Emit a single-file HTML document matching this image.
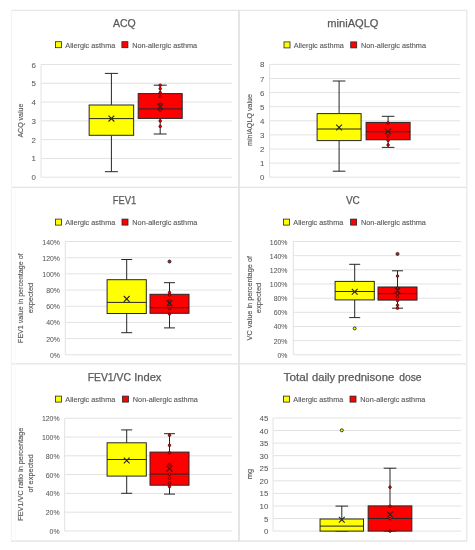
<!DOCTYPE html>
<html><head><meta charset="utf-8"><style>
html,body{margin:0;padding:0;background:#fff;width:475px;height:550px;overflow:hidden}
svg{display:block;font-family:"Liberation Sans", sans-serif;filter:blur(0.4px)}
text{stroke:#595959;stroke-width:0.25px}
text.t{stroke-width:0.05px}
text.l{stroke-width:0.12px}
text.y{stroke-width:0.15px}
</style></head><body>
<svg width="475" height="550" viewBox="0 0 475 550">
<rect width="475" height="550" fill="#fff"/>
<line x1="11" y1="10.3" x2="467" y2="10.3" stroke="#e6e6e6" stroke-width="1.2"/>
<line x1="11" y1="187.4" x2="467" y2="187.4" stroke="#e4e4e4" stroke-width="1.4"/>
<line x1="11" y1="363.8" x2="467" y2="363.8" stroke="#e8e8e8" stroke-width="1.6"/>
<line x1="11" y1="541" x2="467" y2="541" stroke="#e4e4e4" stroke-width="1.4"/>
<line x1="11.4" y1="10" x2="11.4" y2="541.5" stroke="#f4f4f4" stroke-width="1.2"/><line x1="15.2" y1="188" x2="15.2" y2="541" stroke="#fafafa" stroke-width="1"/>
<line x1="239" y1="10" x2="239" y2="541.5" stroke="#e2e2e2" stroke-width="1.8"/>
<line x1="466.8" y1="10" x2="466.8" y2="541.5" stroke="#ebebeb" stroke-width="1.5"/>
<text x="112.9" y="26.6" font-size="10.8" text-anchor="start" fill="#595959" textLength="22.8" lengthAdjust="spacingAndGlyphs">ACQ</text>
<rect x="55.5" y="41.7" width="6" height="6" fill="#ffff00" stroke="#262626" stroke-width="0.8"/>
<text x="65.3" y="47.5" font-size="7.5" text-anchor="start" fill="#595959" textLength="50" lengthAdjust="spacingAndGlyphs" class="l">Allergic asthma</text>
<rect x="121.9" y="41.7" width="6" height="6" fill="#ff0000" stroke="#262626" stroke-width="0.8"/>
<text x="132.20000000000002" y="47.5" font-size="7.5" text-anchor="start" fill="#595959" textLength="65" lengthAdjust="spacingAndGlyphs" class="l">Non-allergic asthma</text>
<line x1="41" y1="177.20" x2="232" y2="177.20" stroke="#e2e2e2" stroke-width="1"/>
<line x1="41" y1="158.42" x2="232" y2="158.42" stroke="#e2e2e2" stroke-width="1"/>
<line x1="41" y1="139.63" x2="232" y2="139.63" stroke="#e2e2e2" stroke-width="1"/>
<line x1="41" y1="120.85" x2="232" y2="120.85" stroke="#e2e2e2" stroke-width="1"/>
<line x1="41" y1="102.07" x2="232" y2="102.07" stroke="#e2e2e2" stroke-width="1"/>
<line x1="41" y1="83.28" x2="232" y2="83.28" stroke="#e2e2e2" stroke-width="1"/>
<line x1="41" y1="64.50" x2="232" y2="64.50" stroke="#e2e2e2" stroke-width="1"/>
<line x1="41" y1="64.5" x2="41" y2="177.2" stroke="#e2e2e2" stroke-width="1"/>
<text x="36" y="180.2" font-size="7.9" text-anchor="end" fill="#595959" textLength="4.39" lengthAdjust="spacingAndGlyphs" class="t">0</text>
<text x="36" y="161.41666666666666" font-size="7.9" text-anchor="end" fill="#595959" textLength="4.39" lengthAdjust="spacingAndGlyphs" class="t">1</text>
<text x="36" y="142.63333333333333" font-size="7.9" text-anchor="end" fill="#595959" textLength="4.39" lengthAdjust="spacingAndGlyphs" class="t">2</text>
<text x="36" y="123.85" font-size="7.9" text-anchor="end" fill="#595959" textLength="4.39" lengthAdjust="spacingAndGlyphs" class="t">3</text>
<text x="36" y="105.06666666666666" font-size="7.9" text-anchor="end" fill="#595959" textLength="4.39" lengthAdjust="spacingAndGlyphs" class="t">4</text>
<text x="36" y="86.28333333333332" font-size="7.9" text-anchor="end" fill="#595959" textLength="4.39" lengthAdjust="spacingAndGlyphs" class="t">5</text>
<text x="36" y="67.5" font-size="7.9" text-anchor="end" fill="#595959" textLength="4.39" lengthAdjust="spacingAndGlyphs" class="t">6</text>
<text class="y" transform="translate(22.8,120.6) rotate(-90)" x="0" y="0" font-size="7.8" text-anchor="middle" fill="#595959" textLength="34" lengthAdjust="spacingAndGlyphs">ACQ value</text>
<line x1="111.4" y1="73.4" x2="111.4" y2="105" stroke="#262626" stroke-width="1"/>
<line x1="111.4" y1="135.3" x2="111.4" y2="171.7" stroke="#262626" stroke-width="1"/>
<line x1="104.9" y1="73.4" x2="117.9" y2="73.4" stroke="#262626" stroke-width="1"/>
<line x1="104.9" y1="171.7" x2="117.9" y2="171.7" stroke="#262626" stroke-width="1"/>
<rect x="89.15" y="105" width="44.5" height="30.30000000000001" fill="#ffff00" stroke="#262626" stroke-width="1"/>
<line x1="89.15" y1="118.6" x2="133.65" y2="118.6" stroke="#262626" stroke-width="1"/>
<path d="M108.5,115.69999999999999L114.30000000000001,121.5M114.30000000000001,115.69999999999999L108.5,121.5" stroke="#262626" stroke-width="1.1" fill="none"/>
<line x1="160.2" y1="85.2" x2="160.2" y2="93.6" stroke="#262626" stroke-width="1"/>
<line x1="160.2" y1="118.4" x2="160.2" y2="134" stroke="#262626" stroke-width="1"/>
<line x1="153.7" y1="85.2" x2="166.7" y2="85.2" stroke="#262626" stroke-width="1"/>
<line x1="153.7" y1="134" x2="166.7" y2="134" stroke="#262626" stroke-width="1"/>
<rect x="138.2" y="93.6" width="44" height="24.80000000000001" fill="#ff0000" stroke="#262626" stroke-width="1"/>
<line x1="138.2" y1="108.9" x2="182.2" y2="108.9" stroke="#262626" stroke-width="1"/>
<circle cx="160.2" cy="85.2" r="1.3" fill="#ff0000" stroke="#3a0000" stroke-width="0.7"/>
<circle cx="160.2" cy="88.7" r="1.3" fill="#ff0000" stroke="#3a0000" stroke-width="0.7"/>
<circle cx="160.2" cy="92.6" r="1.3" fill="#ff0000" stroke="#3a0000" stroke-width="0.7"/>
<circle cx="160.2" cy="96.4" r="1.3" fill="#ff0000" stroke="#3a0000" stroke-width="0.7"/>
<circle cx="160.2" cy="104.2" r="1.3" fill="#ff0000" stroke="#3a0000" stroke-width="0.7"/>
<circle cx="160.2" cy="110" r="1.3" fill="#ff0000" stroke="#3a0000" stroke-width="0.7"/>
<circle cx="160.2" cy="120.9" r="1.3" fill="#ff0000" stroke="#3a0000" stroke-width="0.7"/>
<circle cx="160.2" cy="126.4" r="1.3" fill="#ff0000" stroke="#3a0000" stroke-width="0.7"/>
<path d="M157.29999999999998,103.6L163.1,109.4M163.1,103.6L157.29999999999998,109.4" stroke="#262626" stroke-width="1.1" fill="none"/>
<text x="327.3" y="26.6" font-size="10.8" text-anchor="start" fill="#595959" textLength="51.2" lengthAdjust="spacingAndGlyphs">miniAQLQ</text>
<rect x="284.0" y="41.9" width="6" height="6" fill="#ffff00" stroke="#262626" stroke-width="0.8"/>
<text x="293.8" y="47.699999999999996" font-size="7.5" text-anchor="start" fill="#595959" textLength="50" lengthAdjust="spacingAndGlyphs" class="l">Allergic asthma</text>
<rect x="350.7" y="41.9" width="6" height="6" fill="#ff0000" stroke="#262626" stroke-width="0.8"/>
<text x="361.0" y="47.699999999999996" font-size="7.5" text-anchor="start" fill="#595959" textLength="65" lengthAdjust="spacingAndGlyphs" class="l">Non-allergic asthma</text>
<line x1="269.6" y1="177.20" x2="460.4" y2="177.20" stroke="#e2e2e2" stroke-width="1"/>
<line x1="269.6" y1="163.10" x2="460.4" y2="163.10" stroke="#e2e2e2" stroke-width="1"/>
<line x1="269.6" y1="149.00" x2="460.4" y2="149.00" stroke="#e2e2e2" stroke-width="1"/>
<line x1="269.6" y1="134.90" x2="460.4" y2="134.90" stroke="#e2e2e2" stroke-width="1"/>
<line x1="269.6" y1="120.80" x2="460.4" y2="120.80" stroke="#e2e2e2" stroke-width="1"/>
<line x1="269.6" y1="106.70" x2="460.4" y2="106.70" stroke="#e2e2e2" stroke-width="1"/>
<line x1="269.6" y1="92.60" x2="460.4" y2="92.60" stroke="#e2e2e2" stroke-width="1"/>
<line x1="269.6" y1="78.50" x2="460.4" y2="78.50" stroke="#e2e2e2" stroke-width="1"/>
<line x1="269.6" y1="64.40" x2="460.4" y2="64.40" stroke="#e2e2e2" stroke-width="1"/>
<line x1="269.6" y1="64.4" x2="269.6" y2="177.2" stroke="#e2e2e2" stroke-width="1"/>
<text x="264.5" y="180.2" font-size="7.9" text-anchor="end" fill="#595959" textLength="4.39" lengthAdjust="spacingAndGlyphs" class="t">0</text>
<text x="264.5" y="166.1" font-size="7.9" text-anchor="end" fill="#595959" textLength="4.39" lengthAdjust="spacingAndGlyphs" class="t">1</text>
<text x="264.5" y="152.0" font-size="7.9" text-anchor="end" fill="#595959" textLength="4.39" lengthAdjust="spacingAndGlyphs" class="t">2</text>
<text x="264.5" y="137.89999999999998" font-size="7.9" text-anchor="end" fill="#595959" textLength="4.39" lengthAdjust="spacingAndGlyphs" class="t">3</text>
<text x="264.5" y="123.8" font-size="7.9" text-anchor="end" fill="#595959" textLength="4.39" lengthAdjust="spacingAndGlyphs" class="t">4</text>
<text x="264.5" y="109.7" font-size="7.9" text-anchor="end" fill="#595959" textLength="4.39" lengthAdjust="spacingAndGlyphs" class="t">5</text>
<text x="264.5" y="95.6" font-size="7.9" text-anchor="end" fill="#595959" textLength="4.39" lengthAdjust="spacingAndGlyphs" class="t">6</text>
<text x="264.5" y="81.5" font-size="7.9" text-anchor="end" fill="#595959" textLength="4.39" lengthAdjust="spacingAndGlyphs" class="t">7</text>
<text x="264.5" y="67.4" font-size="7.9" text-anchor="end" fill="#595959" textLength="4.39" lengthAdjust="spacingAndGlyphs" class="t">8</text>
<text class="y" transform="translate(251.5,120) rotate(-90)" x="0" y="0" font-size="7.8" text-anchor="middle" fill="#595959" textLength="52" lengthAdjust="spacingAndGlyphs">miniAQLQ value</text>
<line x1="339.1" y1="81" x2="339.1" y2="113.6" stroke="#262626" stroke-width="1"/>
<line x1="339.1" y1="140.6" x2="339.1" y2="171.2" stroke="#262626" stroke-width="1"/>
<line x1="332.8" y1="81" x2="345.40000000000003" y2="81" stroke="#262626" stroke-width="1"/>
<line x1="332.8" y1="171.2" x2="345.40000000000003" y2="171.2" stroke="#262626" stroke-width="1"/>
<rect x="317.1" y="113.6" width="44" height="27.0" fill="#ffff00" stroke="#262626" stroke-width="1"/>
<line x1="317.1" y1="129" x2="361.1" y2="129" stroke="#262626" stroke-width="1"/>
<path d="M336.20000000000005,124.6L342.0,130.4M342.0,124.6L336.20000000000005,130.4" stroke="#262626" stroke-width="1.1" fill="none"/>
<line x1="388.1" y1="116.3" x2="388.1" y2="122.4" stroke="#262626" stroke-width="1"/>
<line x1="388.1" y1="139.8" x2="388.1" y2="147.4" stroke="#262626" stroke-width="1"/>
<line x1="381.8" y1="116.3" x2="394.40000000000003" y2="116.3" stroke="#262626" stroke-width="1"/>
<line x1="381.8" y1="147.4" x2="394.40000000000003" y2="147.4" stroke="#262626" stroke-width="1"/>
<rect x="366.1" y="122.4" width="44" height="17.400000000000006" fill="#ff0000" stroke="#262626" stroke-width="1"/>
<line x1="366.1" y1="131.8" x2="410.1" y2="131.8" stroke="#262626" stroke-width="1"/>
<circle cx="388.1" cy="122.9" r="1.3" fill="#ff0000" stroke="#3a0000" stroke-width="0.7"/>
<circle cx="388.1" cy="136.2" r="1.3" fill="#ff0000" stroke="#3a0000" stroke-width="0.7"/>
<circle cx="388.1" cy="140.5" r="1.3" fill="#ff0000" stroke="#3a0000" stroke-width="0.7"/>
<circle cx="388.1" cy="144.9" r="1.3" fill="#ff0000" stroke="#3a0000" stroke-width="0.7"/>
<path d="M385.20000000000005,128.6L391.0,134.4M391.0,128.6L385.20000000000005,134.4" stroke="#262626" stroke-width="1.1" fill="none"/>
<text x="112.7" y="203.7" font-size="10.8" text-anchor="start" fill="#595959" textLength="23.5" lengthAdjust="spacingAndGlyphs">FEV1</text>
<rect x="55.5" y="219.1" width="6" height="6" fill="#ffff00" stroke="#262626" stroke-width="0.8"/>
<text x="65.3" y="224.9" font-size="7.5" text-anchor="start" fill="#595959" textLength="50" lengthAdjust="spacingAndGlyphs" class="l">Allergic asthma</text>
<rect x="122.0" y="219.1" width="6" height="6" fill="#ff0000" stroke="#262626" stroke-width="0.8"/>
<text x="132.3" y="224.9" font-size="7.5" text-anchor="start" fill="#595959" textLength="65" lengthAdjust="spacingAndGlyphs" class="l">Non-allergic asthma</text>
<line x1="65.3" y1="354.80" x2="232" y2="354.80" stroke="#e2e2e2" stroke-width="1"/>
<line x1="65.3" y1="338.61" x2="232" y2="338.61" stroke="#e2e2e2" stroke-width="1"/>
<line x1="65.3" y1="322.43" x2="232" y2="322.43" stroke="#e2e2e2" stroke-width="1"/>
<line x1="65.3" y1="306.24" x2="232" y2="306.24" stroke="#e2e2e2" stroke-width="1"/>
<line x1="65.3" y1="290.06" x2="232" y2="290.06" stroke="#e2e2e2" stroke-width="1"/>
<line x1="65.3" y1="273.87" x2="232" y2="273.87" stroke="#e2e2e2" stroke-width="1"/>
<line x1="65.3" y1="257.69" x2="232" y2="257.69" stroke="#e2e2e2" stroke-width="1"/>
<line x1="65.3" y1="241.50" x2="232" y2="241.50" stroke="#e2e2e2" stroke-width="1"/>
<line x1="65.3" y1="241.5" x2="65.3" y2="354.8" stroke="#e2e2e2" stroke-width="1"/>
<text x="60.0" y="357.8" font-size="7.9" text-anchor="end" fill="#595959" textLength="10.0" lengthAdjust="spacingAndGlyphs" class="t">0%</text>
<text x="60.0" y="341.6142857142857" font-size="7.9" text-anchor="end" fill="#595959" textLength="13.85" lengthAdjust="spacingAndGlyphs" class="t">20%</text>
<text x="60.0" y="325.42857142857144" font-size="7.9" text-anchor="end" fill="#595959" textLength="13.85" lengthAdjust="spacingAndGlyphs" class="t">40%</text>
<text x="60.0" y="309.24285714285713" font-size="7.9" text-anchor="end" fill="#595959" textLength="13.85" lengthAdjust="spacingAndGlyphs" class="t">60%</text>
<text x="60.0" y="293.0571428571429" font-size="7.9" text-anchor="end" fill="#595959" textLength="13.85" lengthAdjust="spacingAndGlyphs" class="t">80%</text>
<text x="60.0" y="276.87142857142857" font-size="7.9" text-anchor="end" fill="#595959" textLength="17.7" lengthAdjust="spacingAndGlyphs" class="t">100%</text>
<text x="60.0" y="260.6857142857143" font-size="7.9" text-anchor="end" fill="#595959" textLength="17.7" lengthAdjust="spacingAndGlyphs" class="t">120%</text>
<text x="60.0" y="244.5" font-size="7.9" text-anchor="end" fill="#595959" textLength="17.7" lengthAdjust="spacingAndGlyphs" class="t">140%</text>
<text class="y" transform="translate(23.0,298.2) rotate(-90)" x="0" y="0" font-size="7.8" text-anchor="middle" fill="#595959" textLength="89.5" lengthAdjust="spacingAndGlyphs">FEV1 value in percentage of</text>
<text class="y" transform="translate(33.0,298) rotate(-90)" x="0" y="0" font-size="7.8" text-anchor="middle" fill="#595959" textLength="30.5" lengthAdjust="spacingAndGlyphs">expected</text>
<line x1="126.7" y1="259.5" x2="126.7" y2="279.7" stroke="#262626" stroke-width="1"/>
<line x1="126.7" y1="313.5" x2="126.7" y2="332.7" stroke="#262626" stroke-width="1"/>
<line x1="121.2" y1="259.5" x2="132.2" y2="259.5" stroke="#262626" stroke-width="1"/>
<line x1="121.2" y1="332.7" x2="132.2" y2="332.7" stroke="#262626" stroke-width="1"/>
<rect x="107.1" y="279.7" width="39.2" height="33.80000000000001" fill="#ffff00" stroke="#262626" stroke-width="1"/>
<line x1="107.1" y1="302.4" x2="146.3" y2="302.4" stroke="#262626" stroke-width="1"/>
<path d="M123.8,296.0L129.6,301.79999999999995M129.6,296.0L123.8,301.79999999999995" stroke="#262626" stroke-width="1.1" fill="none"/>
<line x1="169.5" y1="282.7" x2="169.5" y2="294.3" stroke="#262626" stroke-width="1"/>
<line x1="169.5" y1="313.3" x2="169.5" y2="327.9" stroke="#262626" stroke-width="1"/>
<line x1="164.0" y1="282.7" x2="175.0" y2="282.7" stroke="#262626" stroke-width="1"/>
<line x1="164.0" y1="327.9" x2="175.0" y2="327.9" stroke="#262626" stroke-width="1"/>
<rect x="150.0" y="294.3" width="39" height="19.0" fill="#ff0000" stroke="#262626" stroke-width="1"/>
<line x1="150.0" y1="307.7" x2="189.0" y2="307.7" stroke="#262626" stroke-width="1"/>
<circle cx="169.5" cy="292.6" r="1.3" fill="#ff0000" stroke="#3a0000" stroke-width="0.7"/>
<circle cx="169.5" cy="295" r="1.3" fill="#ff0000" stroke="#3a0000" stroke-width="0.7"/>
<circle cx="169.5" cy="300.6" r="1.3" fill="#ff0000" stroke="#3a0000" stroke-width="0.7"/>
<circle cx="169.5" cy="304.4" r="1.3" fill="#ff0000" stroke="#3a0000" stroke-width="0.7"/>
<circle cx="169.5" cy="308.7" r="1.3" fill="#ff0000" stroke="#3a0000" stroke-width="0.7"/>
<circle cx="169.5" cy="314" r="1.3" fill="#ff0000" stroke="#3a0000" stroke-width="0.7"/>
<circle cx="169.5" cy="261.5" r="1.5" fill="#ff0000" stroke="#222" stroke-width="0.9"/>
<path d="M166.6,300.3L172.4,306.09999999999997M172.4,300.3L166.6,306.09999999999997" stroke="#262626" stroke-width="1.1" fill="none"/>
<text x="345.9" y="203.7" font-size="10.8" text-anchor="start" fill="#595959" textLength="13.9" lengthAdjust="spacingAndGlyphs">VC</text>
<rect x="283.5" y="219.1" width="6" height="6" fill="#ffff00" stroke="#262626" stroke-width="0.8"/>
<text x="293.3" y="224.9" font-size="7.5" text-anchor="start" fill="#595959" textLength="50" lengthAdjust="spacingAndGlyphs" class="l">Allergic asthma</text>
<rect x="350.6" y="219.1" width="6" height="6" fill="#ff0000" stroke="#262626" stroke-width="0.8"/>
<text x="360.90000000000003" y="224.9" font-size="7.5" text-anchor="start" fill="#595959" textLength="65" lengthAdjust="spacingAndGlyphs" class="l">Non-allergic asthma</text>
<line x1="293.3" y1="354.80" x2="461" y2="354.80" stroke="#e2e2e2" stroke-width="1"/>
<line x1="293.3" y1="340.64" x2="461" y2="340.64" stroke="#e2e2e2" stroke-width="1"/>
<line x1="293.3" y1="326.48" x2="461" y2="326.48" stroke="#e2e2e2" stroke-width="1"/>
<line x1="293.3" y1="312.31" x2="461" y2="312.31" stroke="#e2e2e2" stroke-width="1"/>
<line x1="293.3" y1="298.15" x2="461" y2="298.15" stroke="#e2e2e2" stroke-width="1"/>
<line x1="293.3" y1="283.99" x2="461" y2="283.99" stroke="#e2e2e2" stroke-width="1"/>
<line x1="293.3" y1="269.82" x2="461" y2="269.82" stroke="#e2e2e2" stroke-width="1"/>
<line x1="293.3" y1="255.66" x2="461" y2="255.66" stroke="#e2e2e2" stroke-width="1"/>
<line x1="293.3" y1="241.50" x2="461" y2="241.50" stroke="#e2e2e2" stroke-width="1"/>
<line x1="293.3" y1="241.5" x2="293.3" y2="354.8" stroke="#e2e2e2" stroke-width="1"/>
<text x="287.5" y="357.8" font-size="7.9" text-anchor="end" fill="#595959" textLength="10.0" lengthAdjust="spacingAndGlyphs" class="t">0%</text>
<text x="287.5" y="343.6375" font-size="7.9" text-anchor="end" fill="#595959" textLength="13.85" lengthAdjust="spacingAndGlyphs" class="t">20%</text>
<text x="287.5" y="329.475" font-size="7.9" text-anchor="end" fill="#595959" textLength="13.85" lengthAdjust="spacingAndGlyphs" class="t">40%</text>
<text x="287.5" y="315.3125" font-size="7.9" text-anchor="end" fill="#595959" textLength="13.85" lengthAdjust="spacingAndGlyphs" class="t">60%</text>
<text x="287.5" y="301.15" font-size="7.9" text-anchor="end" fill="#595959" textLength="13.85" lengthAdjust="spacingAndGlyphs" class="t">80%</text>
<text x="287.5" y="286.9875" font-size="7.9" text-anchor="end" fill="#595959" textLength="17.7" lengthAdjust="spacingAndGlyphs" class="t">100%</text>
<text x="287.5" y="272.825" font-size="7.9" text-anchor="end" fill="#595959" textLength="17.7" lengthAdjust="spacingAndGlyphs" class="t">120%</text>
<text x="287.5" y="258.6625" font-size="7.9" text-anchor="end" fill="#595959" textLength="17.7" lengthAdjust="spacingAndGlyphs" class="t">140%</text>
<text x="287.5" y="244.5" font-size="7.9" text-anchor="end" fill="#595959" textLength="17.7" lengthAdjust="spacingAndGlyphs" class="t">160%</text>
<text class="y" transform="translate(251.6,298.2) rotate(-90)" x="0" y="0" font-size="7.8" text-anchor="middle" fill="#595959" textLength="84.5" lengthAdjust="spacingAndGlyphs">VC value in percentage of</text>
<text class="y" transform="translate(261.0,298) rotate(-90)" x="0" y="0" font-size="7.8" text-anchor="middle" fill="#595959" textLength="30.5" lengthAdjust="spacingAndGlyphs">expected</text>
<line x1="354.7" y1="264.3" x2="354.7" y2="281.4" stroke="#262626" stroke-width="1"/>
<line x1="354.7" y1="299.9" x2="354.7" y2="317.6" stroke="#262626" stroke-width="1"/>
<line x1="349.2" y1="264.3" x2="360.2" y2="264.3" stroke="#262626" stroke-width="1"/>
<line x1="349.2" y1="317.6" x2="360.2" y2="317.6" stroke="#262626" stroke-width="1"/>
<rect x="335.09999999999997" y="281.4" width="39.2" height="18.5" fill="#ffff00" stroke="#262626" stroke-width="1"/>
<line x1="335.09999999999997" y1="291.5" x2="374.29999999999995" y2="291.5" stroke="#262626" stroke-width="1"/>
<circle cx="354.7" cy="328.4" r="1.5" fill="#ffff00" stroke="#222" stroke-width="0.9"/>
<path d="M351.8,288.90000000000003L357.59999999999997,294.7M357.59999999999997,288.90000000000003L351.8,294.7" stroke="#262626" stroke-width="1.1" fill="none"/>
<line x1="397.5" y1="270.8" x2="397.5" y2="287" stroke="#262626" stroke-width="1"/>
<line x1="397.5" y1="300.1" x2="397.5" y2="308.2" stroke="#262626" stroke-width="1"/>
<line x1="392.0" y1="270.8" x2="403.0" y2="270.8" stroke="#262626" stroke-width="1"/>
<line x1="392.0" y1="308.2" x2="403.0" y2="308.2" stroke="#262626" stroke-width="1"/>
<rect x="378.0" y="287" width="39" height="13.100000000000023" fill="#ff0000" stroke="#262626" stroke-width="1"/>
<line x1="378.0" y1="293.6" x2="417.0" y2="293.6" stroke="#262626" stroke-width="1"/>
<circle cx="397.5" cy="276.1" r="1.3" fill="#ff0000" stroke="#3a0000" stroke-width="0.7"/>
<circle cx="397.5" cy="288" r="1.3" fill="#ff0000" stroke="#3a0000" stroke-width="0.7"/>
<circle cx="397.5" cy="293.6" r="1.3" fill="#ff0000" stroke="#3a0000" stroke-width="0.7"/>
<circle cx="397.5" cy="296.8" r="1.3" fill="#ff0000" stroke="#3a0000" stroke-width="0.7"/>
<circle cx="397.5" cy="300.6" r="1.3" fill="#ff0000" stroke="#3a0000" stroke-width="0.7"/>
<circle cx="397.5" cy="305.2" r="1.3" fill="#ff0000" stroke="#3a0000" stroke-width="0.7"/>
<circle cx="397.5" cy="308.2" r="1.3" fill="#ff0000" stroke="#3a0000" stroke-width="0.7"/>
<circle cx="397.5" cy="253.9" r="1.5" fill="#ff0000" stroke="#222" stroke-width="0.9"/>
<path d="M394.6,287.6L400.4,293.4M400.4,287.6L394.6,293.4" stroke="#262626" stroke-width="1.1" fill="none"/>
<text x="87.7" y="380.8" font-size="10.8" text-anchor="start" fill="#595959" textLength="43.2" lengthAdjust="spacingAndGlyphs">FEV1/VC</text>
<text x="134.2" y="380.8" font-size="10.8" text-anchor="start" fill="#595959" textLength="27.2" lengthAdjust="spacingAndGlyphs">Index</text>
<rect x="55.5" y="396.1" width="6" height="6" fill="#ffff00" stroke="#262626" stroke-width="0.8"/>
<text x="65.3" y="401.90000000000003" font-size="7.5" text-anchor="start" fill="#595959" textLength="50" lengthAdjust="spacingAndGlyphs" class="l">Allergic asthma</text>
<rect x="122.5" y="396.1" width="6" height="6" fill="#ff0000" stroke="#262626" stroke-width="0.8"/>
<text x="132.8" y="401.90000000000003" font-size="7.5" text-anchor="start" fill="#595959" textLength="65" lengthAdjust="spacingAndGlyphs" class="l">Non-allergic asthma</text>
<line x1="64.7" y1="531.00" x2="232.4" y2="531.00" stroke="#e2e2e2" stroke-width="1"/>
<line x1="64.7" y1="512.20" x2="232.4" y2="512.20" stroke="#e2e2e2" stroke-width="1"/>
<line x1="64.7" y1="493.40" x2="232.4" y2="493.40" stroke="#e2e2e2" stroke-width="1"/>
<line x1="64.7" y1="474.60" x2="232.4" y2="474.60" stroke="#e2e2e2" stroke-width="1"/>
<line x1="64.7" y1="455.80" x2="232.4" y2="455.80" stroke="#e2e2e2" stroke-width="1"/>
<line x1="64.7" y1="437.00" x2="232.4" y2="437.00" stroke="#e2e2e2" stroke-width="1"/>
<line x1="64.7" y1="418.20" x2="232.4" y2="418.20" stroke="#e2e2e2" stroke-width="1"/>
<line x1="64.7" y1="418.2" x2="64.7" y2="531" stroke="#e2e2e2" stroke-width="1"/>
<text x="59.6" y="534.0" font-size="7.9" text-anchor="end" fill="#595959" textLength="10.0" lengthAdjust="spacingAndGlyphs" class="t">0%</text>
<text x="59.6" y="515.2" font-size="7.9" text-anchor="end" fill="#595959" textLength="13.85" lengthAdjust="spacingAndGlyphs" class="t">20%</text>
<text x="59.6" y="496.4" font-size="7.9" text-anchor="end" fill="#595959" textLength="13.85" lengthAdjust="spacingAndGlyphs" class="t">40%</text>
<text x="59.6" y="477.6" font-size="7.9" text-anchor="end" fill="#595959" textLength="13.85" lengthAdjust="spacingAndGlyphs" class="t">60%</text>
<text x="59.6" y="458.8" font-size="7.9" text-anchor="end" fill="#595959" textLength="13.85" lengthAdjust="spacingAndGlyphs" class="t">80%</text>
<text x="59.6" y="440.0" font-size="7.9" text-anchor="end" fill="#595959" textLength="17.7" lengthAdjust="spacingAndGlyphs" class="t">100%</text>
<text x="59.6" y="421.2" font-size="7.9" text-anchor="end" fill="#595959" textLength="17.7" lengthAdjust="spacingAndGlyphs" class="t">120%</text>
<text class="y" transform="translate(23.1,474.2) rotate(-90)" x="0" y="0" font-size="7.8" text-anchor="middle" fill="#595959" textLength="93.2" lengthAdjust="spacingAndGlyphs">FEV1/VC ratio in percentage</text>
<text class="y" transform="translate(32.6,473.5) rotate(-90)" x="0" y="0" font-size="7.8" text-anchor="middle" fill="#595959" textLength="38.2" lengthAdjust="spacingAndGlyphs">of expected</text>
<line x1="126.7" y1="429.9" x2="126.7" y2="442.8" stroke="#262626" stroke-width="1"/>
<line x1="126.7" y1="476.1" x2="126.7" y2="493.3" stroke="#262626" stroke-width="1"/>
<line x1="121.2" y1="429.9" x2="132.2" y2="429.9" stroke="#262626" stroke-width="1"/>
<line x1="121.2" y1="493.3" x2="132.2" y2="493.3" stroke="#262626" stroke-width="1"/>
<rect x="107.1" y="442.8" width="39.2" height="33.30000000000001" fill="#ffff00" stroke="#262626" stroke-width="1"/>
<line x1="107.1" y1="459.5" x2="146.3" y2="459.5" stroke="#262626" stroke-width="1"/>
<path d="M123.8,457.6L129.6,463.4M129.6,457.6L123.8,463.4" stroke="#262626" stroke-width="1.1" fill="none"/>
<line x1="169.5" y1="433.7" x2="169.5" y2="452.1" stroke="#262626" stroke-width="1"/>
<line x1="169.5" y1="485.2" x2="169.5" y2="494.1" stroke="#262626" stroke-width="1"/>
<line x1="164.0" y1="433.7" x2="175.0" y2="433.7" stroke="#262626" stroke-width="1"/>
<line x1="164.0" y1="494.1" x2="175.0" y2="494.1" stroke="#262626" stroke-width="1"/>
<rect x="150.0" y="452.1" width="39" height="33.099999999999966" fill="#ff0000" stroke="#262626" stroke-width="1"/>
<line x1="150.0" y1="474.1" x2="189.0" y2="474.1" stroke="#262626" stroke-width="1"/>
<circle cx="169.5" cy="435.2" r="1.3" fill="#ff0000" stroke="#3a0000" stroke-width="0.7"/>
<circle cx="169.5" cy="445.3" r="1.3" fill="#ff0000" stroke="#3a0000" stroke-width="0.7"/>
<circle cx="169.5" cy="452.9" r="1.3" fill="#ff0000" stroke="#3a0000" stroke-width="0.7"/>
<circle cx="169.5" cy="464.3" r="1.3" fill="#ff0000" stroke="#3a0000" stroke-width="0.7"/>
<circle cx="169.5" cy="474.4" r="1.3" fill="#ff0000" stroke="#3a0000" stroke-width="0.7"/>
<circle cx="169.5" cy="478.2" r="1.3" fill="#ff0000" stroke="#3a0000" stroke-width="0.7"/>
<circle cx="169.5" cy="482.7" r="1.3" fill="#ff0000" stroke="#3a0000" stroke-width="0.7"/>
<circle cx="169.5" cy="486.5" r="1.3" fill="#ff0000" stroke="#3a0000" stroke-width="0.7"/>
<path d="M166.6,465.70000000000005L172.4,471.5M172.4,465.70000000000005L166.6,471.5" stroke="#262626" stroke-width="1.1" fill="none"/>
<text x="283.5" y="380.8" font-size="10.8" text-anchor="start" fill="#595959" textLength="24.9" lengthAdjust="spacingAndGlyphs">Total</text>
<text x="312.1" y="380.8" font-size="10.8" text-anchor="start" fill="#595959" textLength="23.0" lengthAdjust="spacingAndGlyphs">daily</text>
<text x="338.0" y="380.8" font-size="10.8" text-anchor="start" fill="#595959" textLength="56.3" lengthAdjust="spacingAndGlyphs">prednisone</text>
<text x="399.3" y="380.8" font-size="10.8" text-anchor="start" fill="#595959" textLength="22.3" lengthAdjust="spacingAndGlyphs">dose</text>
<rect x="283.5" y="396.1" width="6" height="6" fill="#ffff00" stroke="#262626" stroke-width="0.8"/>
<text x="293.3" y="401.90000000000003" font-size="7.5" text-anchor="start" fill="#595959" textLength="50" lengthAdjust="spacingAndGlyphs" class="l">Allergic asthma</text>
<rect x="350.0" y="396.1" width="6" height="6" fill="#ff0000" stroke="#262626" stroke-width="0.8"/>
<text x="360.3" y="401.90000000000003" font-size="7.5" text-anchor="start" fill="#595959" textLength="65" lengthAdjust="spacingAndGlyphs" class="l">Non-allergic asthma</text>
<line x1="273" y1="531.10" x2="461.2" y2="531.10" stroke="#e2e2e2" stroke-width="1"/>
<line x1="273" y1="518.53" x2="461.2" y2="518.53" stroke="#e2e2e2" stroke-width="1"/>
<line x1="273" y1="505.97" x2="461.2" y2="505.97" stroke="#e2e2e2" stroke-width="1"/>
<line x1="273" y1="493.40" x2="461.2" y2="493.40" stroke="#e2e2e2" stroke-width="1"/>
<line x1="273" y1="480.83" x2="461.2" y2="480.83" stroke="#e2e2e2" stroke-width="1"/>
<line x1="273" y1="468.27" x2="461.2" y2="468.27" stroke="#e2e2e2" stroke-width="1"/>
<line x1="273" y1="455.70" x2="461.2" y2="455.70" stroke="#e2e2e2" stroke-width="1"/>
<line x1="273" y1="443.13" x2="461.2" y2="443.13" stroke="#e2e2e2" stroke-width="1"/>
<line x1="273" y1="430.57" x2="461.2" y2="430.57" stroke="#e2e2e2" stroke-width="1"/>
<line x1="273" y1="418.00" x2="461.2" y2="418.00" stroke="#e2e2e2" stroke-width="1"/>
<line x1="273" y1="418.0" x2="273" y2="531.1" stroke="#e2e2e2" stroke-width="1"/>
<text x="268.3" y="534.1" font-size="7.9" text-anchor="end" fill="#595959" textLength="4.39" lengthAdjust="spacingAndGlyphs" class="t">0</text>
<text x="268.3" y="521.5333333333333" font-size="7.9" text-anchor="end" fill="#595959" textLength="4.39" lengthAdjust="spacingAndGlyphs" class="t">5</text>
<text x="268.3" y="508.9666666666667" font-size="7.9" text-anchor="end" fill="#595959" textLength="8.78" lengthAdjust="spacingAndGlyphs" class="t">10</text>
<text x="268.3" y="496.40000000000003" font-size="7.9" text-anchor="end" fill="#595959" textLength="8.78" lengthAdjust="spacingAndGlyphs" class="t">15</text>
<text x="268.3" y="483.83333333333337" font-size="7.9" text-anchor="end" fill="#595959" textLength="8.78" lengthAdjust="spacingAndGlyphs" class="t">20</text>
<text x="268.3" y="471.26666666666665" font-size="7.9" text-anchor="end" fill="#595959" textLength="8.78" lengthAdjust="spacingAndGlyphs" class="t">25</text>
<text x="268.3" y="458.7" font-size="7.9" text-anchor="end" fill="#595959" textLength="8.78" lengthAdjust="spacingAndGlyphs" class="t">30</text>
<text x="268.3" y="446.1333333333333" font-size="7.9" text-anchor="end" fill="#595959" textLength="8.78" lengthAdjust="spacingAndGlyphs" class="t">35</text>
<text x="268.3" y="433.56666666666666" font-size="7.9" text-anchor="end" fill="#595959" textLength="8.78" lengthAdjust="spacingAndGlyphs" class="t">40</text>
<text x="268.3" y="421.0" font-size="7.9" text-anchor="end" fill="#595959" textLength="8.78" lengthAdjust="spacingAndGlyphs" class="t">45</text>
<text class="y" transform="translate(252.0,474.1) rotate(-90)" x="0" y="0" font-size="7.8" text-anchor="middle" fill="#595959" textLength="10.2" lengthAdjust="spacingAndGlyphs">mg</text>
<line x1="341.8" y1="506.1" x2="341.8" y2="519.0" stroke="#262626" stroke-width="1"/>
<line x1="341.8" y1="531.1" x2="341.8" y2="531.1" stroke="#262626" stroke-width="1"/>
<line x1="335.5" y1="506.1" x2="348.1" y2="506.1" stroke="#262626" stroke-width="1"/>
<line x1="335.5" y1="531.1" x2="348.1" y2="531.1" stroke="#262626" stroke-width="1"/>
<rect x="320.05" y="519.0" width="43.5" height="12.100000000000023" fill="#ffff00" stroke="#262626" stroke-width="1"/>
<line x1="320.05" y1="526.1" x2="363.55" y2="526.1" stroke="#262626" stroke-width="1"/>
<circle cx="341.8" cy="430.3" r="1.5" fill="#ffff00" stroke="#222" stroke-width="0.9"/>
<path d="M338.90000000000003,516.9L344.7,522.6999999999999M344.7,516.9L338.90000000000003,522.6999999999999" stroke="#262626" stroke-width="1.1" fill="none"/>
<line x1="390" y1="468.2" x2="390" y2="505.9" stroke="#262626" stroke-width="1"/>
<line x1="390" y1="531.1" x2="390" y2="531.1" stroke="#262626" stroke-width="1"/>
<line x1="383.7" y1="468.2" x2="396.3" y2="468.2" stroke="#262626" stroke-width="1"/>
<line x1="383.7" y1="531.1" x2="396.3" y2="531.1" stroke="#262626" stroke-width="1"/>
<rect x="368.15" y="505.9" width="43.7" height="25.200000000000045" fill="#ff0000" stroke="#262626" stroke-width="1"/>
<line x1="368.15" y1="518.5" x2="411.84999999999997" y2="518.5" stroke="#262626" stroke-width="1"/>
<circle cx="390" cy="487.2" r="1.3" fill="#ff0000" stroke="#3a0000" stroke-width="0.7"/>
<circle cx="390" cy="506.3" r="1.3" fill="#ff0000" stroke="#3a0000" stroke-width="0.7"/>
<circle cx="390" cy="518.7" r="1.3" fill="#ff0000" stroke="#3a0000" stroke-width="0.7"/>
<circle cx="390" cy="531.1" r="1.3" fill="#ff0000" stroke="#3a0000" stroke-width="0.7"/>
<path d="M387.1,511.5L392.9,517.3M392.9,511.5L387.1,517.3" stroke="#262626" stroke-width="1.1" fill="none"/>
</svg></body></html>
